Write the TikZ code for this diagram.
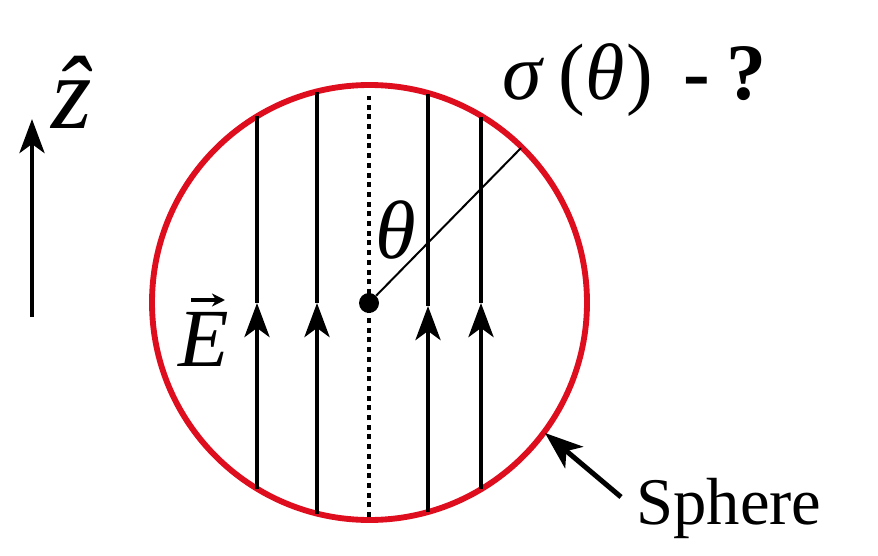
\documentclass[tikz,border=0pt]{standalone}
\usepackage{xcolor}
\usepackage{fontspec}
\setmainfont{Liberation Serif}
\usetikzlibrary{arrows.meta}
\definecolor{sphereRed}{RGB}{222,14,30}
\tikzset{
  label text/.style={inner sep=0pt,text=black},
  field line/.style={line width=4.8*0.75pt,draw=black},
  field tip/.style={-{Stealth[length=34*0.75pt,width=25*0.75pt,inset=9*0.75pt]}},
  pointer tip/.style={-{Stealth[length=38*0.75pt,width=28*0.75pt,inset=10*0.75pt]}},
}

\begin{document}
\begin{tikzpicture}[x=0.75pt,y=0.75pt,yscale=-1,xscale=1]
\useasboundingbox (0,0) rectangle (878,556);

%Sphere
\node [circle,draw=sphereRed,line width=4.4pt,minimum size=435*0.75pt,inner sep=0pt] (sphere) at (369.5,302.5) {};

%Field lines: x, bottom, tip, top
\foreach \fx/\fbot/\ftip/\ftop/\fname in {257/489/303/116/a,317/514/303/92/b,428/512/306/94/c,481/489/303/117/d}{
  \coordinate (bot\fname) at (\fx,\fbot);
  \coordinate (tip\fname) at (\fx,\ftip);
  \coordinate (top\fname) at (\fx,\ftop);
  \draw [field line] (tip\fname) -- (top\fname);
  \draw [field line,field tip] (bot\fname) -- (tip\fname);
}

%Axis line
\coordinate (axisbot) at (369,517);
\coordinate (axistop) at (369,96);
\draw [line width=4.8*0.75pt,dash pattern=on 5*0.75pt off 4.7*0.75pt] (axisbot) -- (axistop);

%Centre and radius
\node [circle,fill=black,inner sep=0pt,minimum size=20*0.75pt] (centre) at (369,303) {};
\coordinate (rim) at (521,148);
\draw [line width=2*0.75pt] (centre) -- (rim);

%z arrow
\coordinate (zbot) at (32,317);
\coordinate (ztop) at (32,119);
\draw [field line,field tip] (zbot) -- (ztop);

%Pointer
\coordinate (pointstart) at (621,497);
\coordinate (pointend) at (545,433);
\draw [line width=5*0.75pt,pointer tip] (pointstart) -- (pointend);

% Text Node
\node [label text,font=\fontsize{78}{78}\selectfont\itshape] (zlabel) at (72,92) {ẑ};
% Text Node
\node [label text,font=\fontsize{62}{62}\selectfont\itshape] (thetalabel) at (396,230) {θ};
% Text Node
\node [label text,font=\fontsize{62}{62}\selectfont\itshape] (elabel) at (204,339) {E};
% vector arrow over E
\coordinate (vecstart) at (191,300);
\coordinate (vecend) at (225,300);
\draw [line width=3.6*0.75pt,-{Stealth[length=13*0.75pt,width=13*0.75pt,inset=4*0.75pt]}] (vecstart) -- (vecend);
% Text Node
\node [label text,anchor=west,font=\fontsize{60}{60}\selectfont] (sigmalabel) at (502,80) {\textit{σ}\kern11pt(\textit{θ}\kern1pt)\hspace{23pt}\textbf{-}\hspace{12pt}\textbf{?}};
% Text Node
\node [label text,anchor=west,font=\fontsize{50}{50}\selectfont] (spherelabel) at (636,508) {Sphere};

\end{tikzpicture}
\end{document}
